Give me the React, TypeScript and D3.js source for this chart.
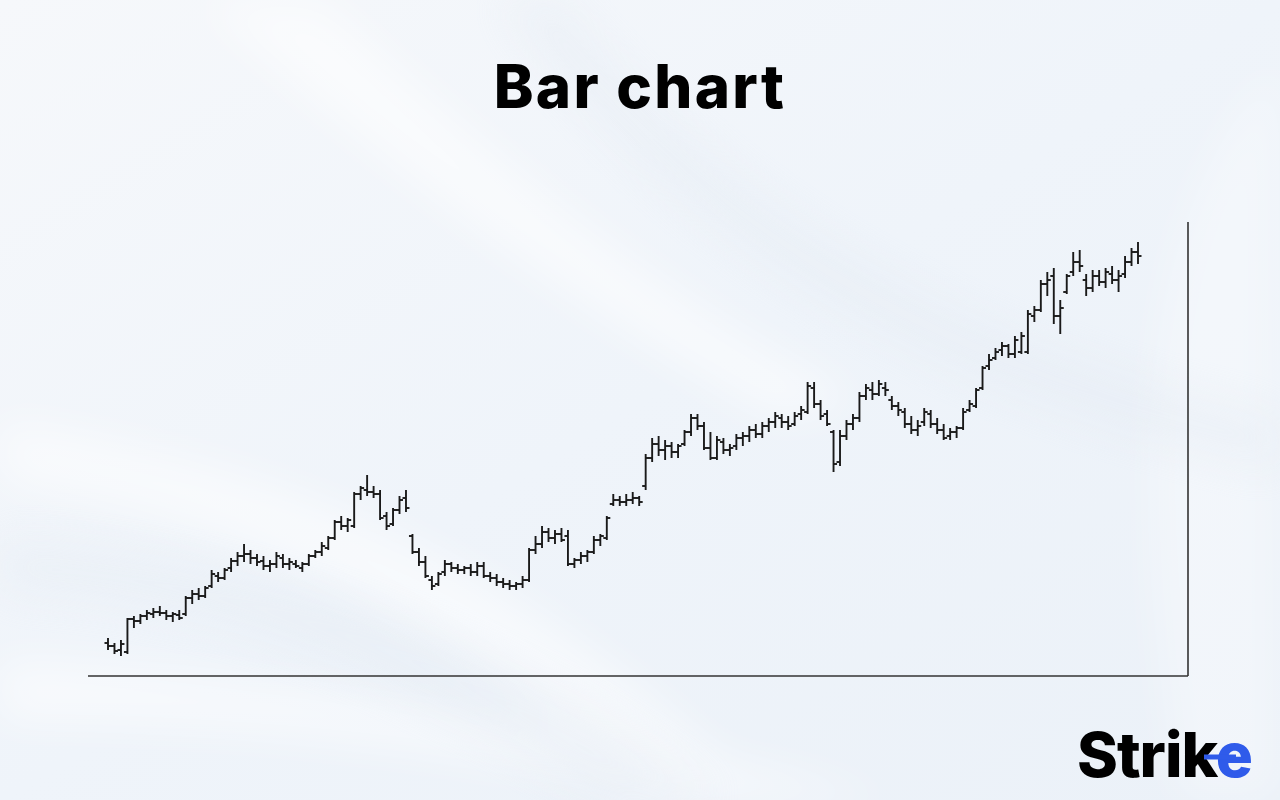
import * as d3 from 'd3';
import React from 'react';

// [open, high, low, close] per session
const ohlc: [number, number, number, number][] = [
  [33, 38, 26, 30], [30, 33, 22, 25], [26, 36, 20, 32], [24, 58, 22, 57], [57, 60, 48, 55],
  [55, 62, 52, 60], [60, 66, 56, 63], [62, 68, 58, 64], [64, 70, 60, 63], [63, 66, 56, 60],
  [60, 64, 54, 62], [61, 66, 56, 58], [62, 80, 60, 78], [78, 86, 72, 82], [82, 88, 76, 80],
  [80, 90, 78, 88], [90, 106, 88, 102], [100, 104, 94, 98], [98, 108, 96, 106], [108, 118, 104, 115],
  [115, 124, 110, 120], [120, 132, 114, 122], [122, 126, 112, 118], [118, 122, 110, 114], [115, 120, 106, 110],
  [110, 116, 104, 112], [112, 124, 108, 120], [118, 122, 108, 112], [112, 118, 106, 114], [112, 116, 108, 110],
  [108, 114, 104, 112], [112, 122, 110, 120], [120, 126, 118, 124], [124, 134, 120, 130], [128, 140, 126, 138],
  [138, 156, 136, 154], [154, 160, 146, 150], [150, 158, 144, 156], [150, 184, 148, 182], [182, 190, 176, 188],
  [186, 201, 180, 184], [184, 190, 178, 182], [182, 186, 156, 158], [160, 164, 146, 150], [152, 168, 150, 166],
  [166, 180, 162, 176], [178, 186, 164, 168], [140, 142, 122, 124], [124, 128, 110, 114], [114, 120, 98, 100],
  [96, 100, 86, 90], [92, 104, 90, 102], [104, 116, 100, 112], [112, 114, 104, 108], [108, 112, 102, 106],
  [106, 110, 102, 108], [108, 112, 100, 104], [104, 114, 100, 110], [110, 114, 98, 100], [100, 104, 94, 98],
  [98, 102, 90, 94], [94, 98, 88, 92], [92, 96, 86, 90], [90, 94, 86, 92], [92, 100, 88, 96],
  [96, 128, 94, 126], [126, 140, 122, 132], [132, 150, 128, 144], [144, 148, 134, 138], [138, 146, 132, 142],
  [142, 148, 134, 136], [140, 146, 110, 112], [112, 118, 108, 116], [116, 124, 112, 120], [120, 126, 114, 124],
  [124, 140, 122, 136], [136, 142, 130, 140], [138, 160, 136, 158], [172, 182, 170, 176], [176, 180, 170, 174],
  [174, 182, 170, 176], [176, 184, 172, 178], [178, 180, 170, 174], [190, 222, 186, 218], [218, 238, 214, 232],
  [232, 240, 220, 226], [226, 236, 216, 230], [230, 234, 218, 224], [224, 232, 218, 230], [232, 246, 230, 244],
  [244, 262, 240, 258], [258, 262, 246, 250], [250, 254, 226, 228], [228, 244, 216, 218], [218, 240, 216, 236],
  [234, 238, 222, 226], [226, 232, 220, 228], [230, 242, 226, 238], [238, 244, 230, 240], [240, 250, 234, 246],
  [246, 252, 238, 242], [242, 254, 238, 250], [250, 258, 244, 254], [254, 264, 248, 260], [258, 262, 248, 254],
  [254, 260, 246, 250], [252, 264, 250, 260], [262, 270, 256, 266], [264, 294, 262, 290], [288, 294, 268, 272],
  [272, 276, 256, 260], [262, 266, 250, 252], [244, 246, 204, 212], [214, 246, 210, 240], [240, 256, 236, 252],
  [252, 262, 246, 258], [258, 284, 254, 280], [280, 292, 276, 288], [286, 294, 276, 282], [282, 296, 280, 292],
  [288, 294, 280, 286], [276, 280, 266, 270], [270, 274, 260, 266], [264, 268, 248, 252], [252, 260, 242, 246],
  [246, 256, 240, 250], [254, 268, 250, 264], [262, 266, 248, 252], [252, 258, 242, 246], [246, 252, 236, 238],
  [240, 248, 236, 244], [244, 250, 238, 248], [248, 268, 246, 264], [266, 276, 264, 272], [270, 288, 268, 286],
  [288, 310, 286, 308], [310, 322, 306, 316], [318, 328, 316, 324], [326, 334, 320, 330], [330, 332, 318, 322],
  [322, 340, 318, 336], [324, 344, 322, 340], [324, 366, 322, 362], [360, 370, 354, 366], [366, 396, 364, 392],
  [392, 404, 380, 396], [400, 408, 352, 360], [360, 376, 342, 368], [384, 402, 382, 400], [404, 424, 400, 414],
  [414, 426, 404, 410], [396, 402, 380, 388], [388, 406, 384, 400], [400, 406, 390, 394], [394, 408, 388, 404],
  [402, 410, 392, 396], [396, 406, 384, 400], [402, 420, 398, 414], [414, 428, 410, 424], [424, 434, 412, 420],
];

const sessions = ohlc.map((_, i) => i);
const priceRange = [0, 454];

const W = 1280;
const H = 800;
const plot = { left: 88, right: 1188, top: 222, bottom: 676 };
const tick = 3.5;

const App: React.FC = () => {
  const x = d3.scalePoint<number>().domain(sessions).range([108, 1138]);
  const y = d3.scaleLinear().domain(priceRange).range([plot.bottom, plot.top]);

  return (
    <svg
      width={W}
      height={H}
      viewBox={`0 0 ${W} ${H}`}
      style={{ position: 'fixed', left: 0, top: 0 }}
    >
      <defs>
        <linearGradient id="bg" x1="0" y1="0" x2="1" y2="1">
          <stop offset="0%" stopColor="#f6f8fb" />
          <stop offset="50%" stopColor="#eff4fa" />
          <stop offset="100%" stopColor="#ebf1f8" />
        </linearGradient>
        <filter id="blur" x="-20%" y="-20%" width="140%" height="140%">
          <feGaussianBlur stdDeviation="22" />
        </filter>
      </defs>
      <rect width={W} height={H} fill="url(#bg)" />
      <g filter="url(#blur)" fill="#ffffff" opacity={0.55}>
        <path d="M0,420 C300,470 520,560 760,800 L640,800 C420,600 240,520 0,480 Z" />
        <path d="M0,660 C300,680 600,730 900,800 L700,800 C480,750 240,720 0,720 Z" />
        <path d="M200,0 C380,160 560,300 780,420 L860,400 C620,280 480,140 320,0 Z" />
        <path d="M1280,60 C1150,200 1120,420 1180,800 L1280,800 Z" opacity={0.6} />
      </g>
      <g filter="url(#blur)" fill="#e3eaf3" opacity={0.4}>
        <path d="M0,540 C260,560 520,640 720,800 L600,800 C420,680 220,600 0,590 Z" />
        <path d="M560,0 C700,180 900,330 1280,420 L1280,470 C880,380 660,220 500,0 Z" />
      </g>

      <text
        x={640}
        y={108}
        textAnchor="middle"
        fontFamily="Inter, 'Open Sans', sans-serif"
        fontWeight={800}
        fontSize={60}
        letterSpacing={2.3}
        fill="#000"
      >
        Bar chart
      </text>

      <line x1={plot.left} x2={plot.right} y1={plot.bottom} y2={plot.bottom} stroke="#333" strokeWidth={1.6} />
      <line x1={plot.right} x2={plot.right} y1={plot.top} y2={plot.bottom} stroke="#333" strokeWidth={1.6} />

      <g stroke="#1a1a1a" strokeWidth={1.9}>
        {ohlc.map(([o, h, l, c], i) => {
          const cx = x(i) as number;
          return (
            <g key={i}>
              <line x1={cx} x2={cx} y1={y(h)} y2={y(l)} />
              <line x1={cx - tick} x2={cx} y1={y(o)} y2={y(o)} />
              <line x1={cx} x2={cx + tick} y1={y(c)} y2={y(c)} />
            </g>
          );
        })}
      </g>

      <g fontFamily="Inter, 'Open Sans', sans-serif" fontWeight={800} fontSize={62}>
        <text x={1077} y={777} fill="#000" letterSpacing={-1}>
          Strik
          <tspan fill="#2f5bea">e</tspan>
        </text>
        <line x1={1204} x2={1236} y1={757} y2={757} stroke="#2f5bea" strokeWidth={5} />
      </g>
    </svg>
  );
};

export default App;
